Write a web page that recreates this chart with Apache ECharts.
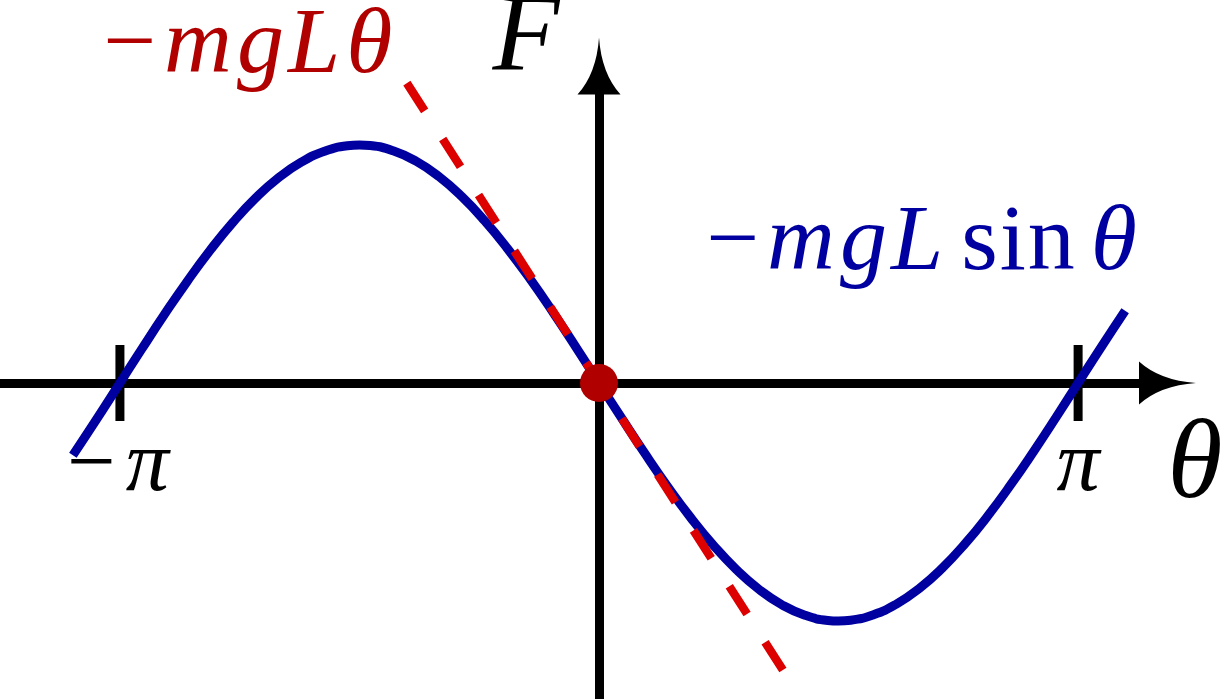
<!DOCTYPE html>
<html>
<head>
<meta charset="utf-8">
<script src="https://cdn.jsdelivr.net/npm/echarts@6/dist/echarts.min.js"></script>
<style>
html,body{margin:0;padding:0;background:#fff;}
#chart{width:1221px;height:699px;}
</style>
</head>
<body>
<div id="chart"></div>
<script>
// ---- data ----
const curveTheta = [-3.45, -3.3, -3.15, -3.0, -2.85, -2.7, -2.55, -2.4, -2.25, -2.1, -1.95, -1.8, -1.65, -1.5708, -1.5, -1.35, -1.2,
                    -1.05, -0.9, -0.75, -0.6, -0.45, -0.3, -0.15, 0, 0.15, 0.3, 0.45, 0.6, 0.75, 0.9, 1.05, 1.2, 1.35,
                    1.5, 1.5708, 1.65, 1.8, 1.95, 2.1, 2.25, 2.4, 2.55, 2.7, 2.85, 3.0, 3.15, 3.3, 3.45];
const curveForce = [-0.3035, -0.1577, -0.0084, 0.1411, 0.2875, 0.4274, 0.5577, 0.6755, 0.7781, 0.8632, 0.9290, 0.9738,
                    0.9969, 1.0, 0.9975, 0.9757, 0.9320, 0.8674, 0.7833, 0.6816, 0.5646, 0.4350, 0.2955, 0.1494, 0,
                    -0.1494, -0.2955, -0.4350, -0.5646, -0.6816, -0.7833, -0.8674, -0.9320, -0.9757, -0.9975, -1.0, -0.9969,
                    -0.9738, -0.9290, -0.8632, -0.7781, -0.6755, -0.5577, -0.4274, -0.2875, -0.1411, 0.0084, 0.1577, 0.3035];
const tangentTheta = [-1.26, 1.26];
const tangentForce = [1.26, -1.26];
const tickTheta = [-3.1416, 3.1416];
const tickLabels = [['−', 'π'], ['π']];
const equilibrium = [[0, 0]];
const curveLabel = ['−', 'm', 'g', 'L', 's', 'i', 'n', 'θ'];
const tangentLabel = ['−', 'm', 'g', 'L', 'θ'];
const axisNames = { x: 'θ', y: 'F' };

// ---- styling ----
const BLUE = '#0000a0';
const DASHRED = '#dd0000';
const DARKRED = '#b00000';
const SERIF = '"Liberation Serif", "DejaVu Serif", serif';
const arrowPath = 'path://M21.5,0 Q24,36 43,57 L0,57 Q19,36 21.5,0 Z';

const curveLabelItalic = [false, true, true, true, false, false, false, true];
const curveLabelPad = [8, 5, 4, 18, 2, 2, 16, 0];
const tangentLabelItalic = [false, true, true, true, true];
const tangentLabelPad = [8, 5, 4, 6, 0];
const tickLabelItalic = [[false, true], [true]];
const tickLabelPad = [[10, 0], [0]];

function richText(chars, italic, pads, size, color) {
  const rich = {};
  let text = '';
  chars.forEach((c, i) => {
    const key = 'p' + i;
    rich[key] = { font: (italic[i] ? 'italic ' : '') + size + 'px ' + SERIF, fill: color, padding: [0, pads[i], 0, 0] };
    text += '{' + key + '|' + c + '}';
  });
  return { text, rich };
}

const curveData = curveTheta.map((t, i) => [t, curveForce[i]]);
const tangentData = tangentTheta.map((t, i) => [t, tangentForce[i]]);
const tickData = tickTheta.map(t => [t, 0]);

const redText = richText(tangentLabel, tangentLabelItalic, tangentLabelPad, 94, DARKRED);
const blueText = richText(curveLabel, curveLabelItalic, curveLabelPad, 94, BLUE);
const minusPiText = richText(tickLabels[0], tickLabelItalic[0], tickLabelPad[0], 86, '#000');
const piText = richText(tickLabels[1], tickLabelItalic[1], tickLabelPad[1], 86, '#000');

const chart = echarts.init(document.getElementById('chart'), null, { renderer: 'canvas' });
chart.setOption({
  animation: false,
  backgroundColor: '#fff',
  grid: { left: 0, right: 71, top: 85, bottom: 0, containLabel: false, outerBoundsMode: 'none' },
  xAxis: {
    type: 'value', min: -3.928, max: 3.613,
    axisLine: { show: true, onZero: true, symbol: ['none', arrowPath], symbolSize: [43, 57], symbolOffset: [0, 17.5],
                lineStyle: { color: '#000', width: 9 } },
    axisTick: { show: false }, axisLabel: { show: false }, splitLine: { show: false }
  },
  yAxis: {
    type: 'value', min: -1.3277, max: 1.2521,
    axisLine: { show: true, onZero: true, symbol: ['none', arrowPath], symbolSize: [43, 57], symbolOffset: [0, 19],
                lineStyle: { color: '#000', width: 9 } },
    axisTick: { show: false }, axisLabel: { show: false }, splitLine: { show: false }
  },
  series: [
    {
      type: 'scatter', data: tickData, symbol: 'rect', symbolSize: [9, 76],
      itemStyle: { color: '#000', opacity: 1 }, z: 2, silent: true
    },
    {
      type: 'line', data: curveData, smooth: 0.5, showSymbol: false, clip: false,
      lineStyle: { color: BLUE, width: 9, join: 'round' }, z: 3, silent: true
    },
    {
      type: 'line', data: tangentData, showSymbol: false, clip: false,
      lineStyle: { color: DASHRED, width: 8.5, type: [33, 33.4] }, z: 4, silent: true
    },
    {
      type: 'scatter', data: equilibrium, symbol: 'circle', symbolSize: 38,
      itemStyle: { color: DARKRED, opacity: 1 }, z: 5, silent: true
    }
  ],
  graphic: [
    { type: 'text', x: 526, y: 40, z: 10, style: { text: axisNames.y, font: 'italic 110px ' + SERIF, fill: '#000', textAlign: 'center', textVerticalAlign: 'middle' } },
    { type: 'text', x: 1195, y: 468, z: 10, style: { text: axisNames.x, font: 'italic 112px ' + SERIF, fill: '#000', textAlign: 'center', textVerticalAlign: 'middle' } },
    { type: 'text', x: 118, y: 467, z: 10, style: Object.assign({ textAlign: 'center', textVerticalAlign: 'middle' }, minusPiText) },
    { type: 'text', x: 1078, y: 467, z: 10, style: Object.assign({ textAlign: 'center', textVerticalAlign: 'middle' }, piText) },
    { type: 'text', x: 103, y: 47, z: 10, style: Object.assign({ textAlign: 'left', textVerticalAlign: 'middle' }, redText) },
    { type: 'text', x: 706, y: 244, z: 10, style: Object.assign({ textAlign: 'left', textVerticalAlign: 'middle' }, blueText) }
  ]
});
</script>
</body>
</html>
